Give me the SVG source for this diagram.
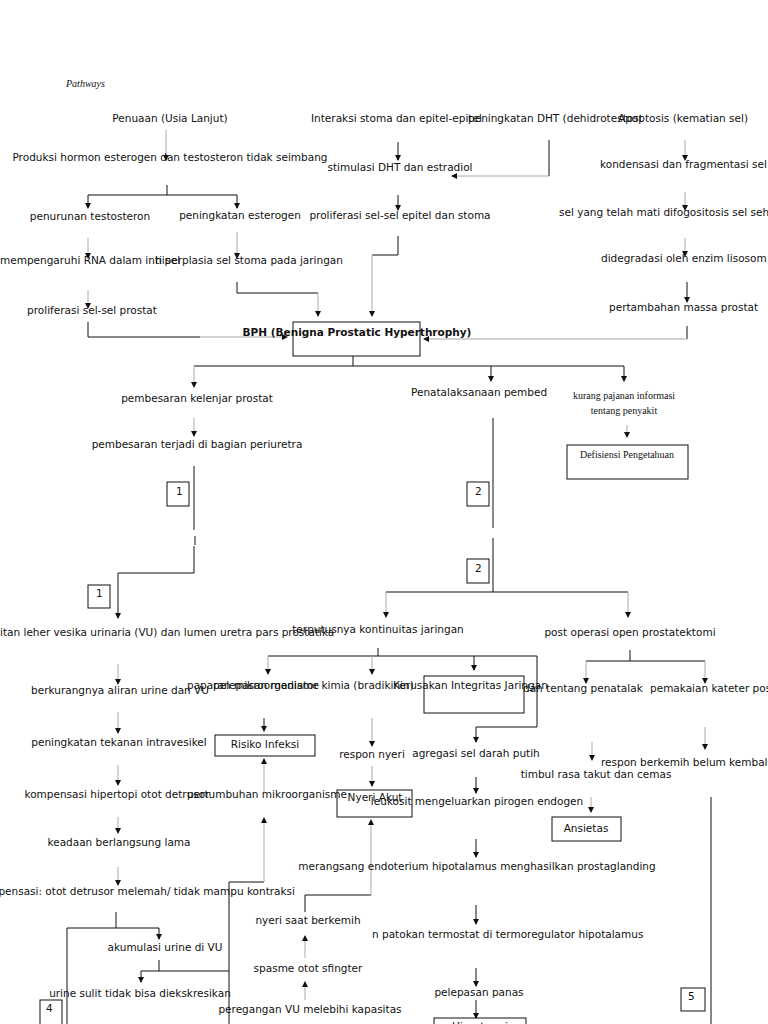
<svg xmlns="http://www.w3.org/2000/svg" width="768" height="1024" viewBox="0 0 768 1024">
<style>
text{font-family:"DejaVu Sans",sans-serif;font-size:10.5px;fill:#111}
.m{text-anchor:middle}
.e{text-anchor:end}
.s{font-family:"Liberation Serif",serif;font-size:10px}
.b{font-weight:bold}
.bx{fill:none;stroke:#111;stroke-width:1}
.k{fill:none;stroke:#111;stroke-width:1}
.g{fill:none;stroke:#aaa;stroke-width:1}
.a{marker-end:url(#ar)}
</style>
<defs><marker id="ar" markerWidth="6" markerHeight="6" refX="5" refY="3" orient="auto" markerUnits="userSpaceOnUse"><path d="M0,0L6,3L0,6z" fill="#111"/></marker></defs>
<rect width="768" height="1024" fill="#fff"/>
<text x="66" y="87" class="s" font-style="italic">Pathways</text>
<g id="connectors">
<path class="g a" d="M166,130V160"/>
<path class="k" d="M167,185V195M88,195H237"/>
<path class="k a" d="M88,195V208"/><path class="k a" d="M237,195V208"/>
<path class="g a" d="M88,238V258"/><path class="g a" d="M237,232V258"/><path class="g a" d="M88,290V308"/>
<path class="k" d="M88,322V337H200"/><path class="g a" d="M200,337H287"/>
<path class="k" d="M237,282V293H318"/><path class="g a" d="M318,293V316"/>
<path class="k a" d="M398,142V160"/><path class="k a" d="M398,195V210"/>
<path class="k" d="M549,140V176"/><path class="g a" d="M549,176H452"/>
<path class="k" d="M398,236V255H372"/><path class="g a" d="M372,255V316"/>
<path class="g a" d="M685,140V160"/><path class="g a" d="M685,192V210"/><path class="g a" d="M685,238V256"/>
<path class="k a" d="M687,282V302"/>
<path class="k" d="M687,326V339"/><path class="g a" d="M687,339H424"/>
<path class="k" d="M353,356V366M194,366H624"/>
<path class="g a" d="M194,366V387"/><path class="k a" d="M491,366V381"/><path class="k a" d="M624,366V381"/>
<path class="g a" d="M627,425V437"/><path class="g a" d="M194,418V436"/>
<path class="k" d="M194,466V530M195,536V545M194,546V573H118"/><path class="k a" d="M118,573V618"/>
<path class="k" d="M493,418V528M493,538V592M386,592H628"/>
<path class="g a" d="M386,592V617"/><path class="g a" d="M628,592V617"/>
<path class="k" d="M378,648V656M268,656H537V727H476"/>
<path class="g a" d="M268,656V674"/><path class="g a" d="M372,656V674"/><path class="k a" d="M474,656V670"/><path class="k a" d="M476,727V742"/>
<path class="k" d="M630,650V661M586,661H705"/><path class="g a" d="M586,661V683"/><path class="g a" d="M705,661V683"/>
<path class="k a" d="M264,718V731"/>
<path class="g a" d="M372,718V746"/><path class="g a" d="M372,766V786"/>
<path class="k a" d="M476,777V793"/>
<path class="g a" d="M592,742V760"/><path class="g a" d="M705,727V749"/><path class="g a" d="M591,797V812"/>
<path class="k" d="M711,797V1024"/>
<path class="g a" d="M118,664V684"/><path class="g a" d="M118,712V733"/><path class="g a" d="M118,765V785"/><path class="g a" d="M118,817V833"/><path class="g a" d="M118,867V885"/>
<path class="g a" d="M264,792V759"/>
<path class="k" d="M229,1024V882H264"/><path class="g a" d="M264,882V818"/>
<path class="k" d="M116,912V928M67,928H159M67,928V1024"/><path class="k a" d="M159,928V939"/>
<path class="k" d="M159,960V971M141,971H229"/><path class="k a" d="M141,971V982"/>
<path class="g a" d="M305,958V936"/><path class="g a" d="M305,1000V982"/>
<path class="k" d="M305,912V895H371"/><path class="g a" d="M371,895V820"/>
<path class="k a" d="M476,839V857"/><path class="k a" d="M476,905V924"/><path class="k a" d="M476,968V986"/><path class="k a" d="M476,1000V1018"/>
</g>
<g id="texts">
<text x="170" y="122" class="m">Penuaan (Usia Lanjut)</text>
<text x="170" y="161" class="m">Produksi hormon esterogen dan testosteron tidak seimbang</text>
<text x="90" y="220" class="m">penurunan testosteron</text>
<text x="240" y="219" class="m">peningkatan esterogen</text>
<text x="0" y="264">mempengaruhi RNA dalam inti sel</text>
<text x="155" y="264">hiperplasia sel stoma pada jaringan</text>
<text x="92" y="314" class="m">proliferasi sel-sel prostat</text>
<text x="311" y="122">Interaksi stoma dan epitel-epitel</text>
<text x="468" y="122">peningkatan DHT (dehidrotestost</text>
<text x="618" y="122">Apoptosis (kematian sel)</text>
<text x="400" y="171" class="m">stimulasi DHT dan estradiol</text>
<text x="400" y="219" class="m">proliferasi sel-sel epitel dan stoma</text>
<text x="600" y="168">kondensasi dan fragmentasi sel</text>
<text x="559" y="216">sel yang telah mati difogositosis sel sehat</text>
<text x="601" y="262">didegradasi oleh enzim lisosom</text>
<text x="609" y="311">pertambahan massa prostat</text>
<text x="357" y="336" class="m b">BPH (Benigna Prostatic Hyperthrophy)</text>
<text x="197" y="402" class="m">pembesaran kelenjar prostat</text>
<text x="411" y="396">Penatalaksanaan pembed</text>
<text x="624" y="399" class="m s">kurang pajanan informasi</text>
<text x="624" y="414" class="m s">tentang penyakit</text>
<text x="197" y="448" class="m">pembesaran terjadi di bagian periuretra</text>
<text x="0" y="636">itan leher vesika urinaria (VU) dan lumen uretra pars prostatika</text>
<text x="378" y="633" class="m">terputusnya kontinuitas jaringan</text>
<text x="630" y="636" class="m">post operasi open prostatektomi</text>
<text x="187" y="689">paparan mikroorganisme</text>
<text x="213" y="689">pelepasan mediator kimia (bradikinin)</text>
<text x="393" y="689">Kerusakan Integritas Jaringan</text>
<text x="523" y="692">dan tentang penatalak</text>
<text x="650" y="692">pemakaian kateter post operasi</text>
<text x="120" y="694" class="m">berkurangnya aliran urine dan VU</text>
<text x="119" y="746" class="m">peningkatan tekanan intravesikel</text>
<text x="372" y="758" class="m">respon nyeri</text>
<text x="476" y="757" class="m">agregasi sel darah putih</text>
<text x="601" y="766">respon berkemih belum kembali normal</text>
<text x="596" y="778" class="m">timbul rasa takut dan cemas</text>
<text x="117" y="798" class="m">kompensasi hipertopi otot detrusor</text>
<text x="187" y="798">pertumbuhan mikroorganisme</text>
<text x="477" y="805" class="m">leukosit mengeluarkan pirogen endogen</text>
<text x="119" y="846" class="m">keadaan berlangsung lama</text>
<text x="477" y="870" class="m">merangsang endoterium hipotalamus menghasilkan prostaglanding</text>
<text x="295" y="895" class="e">dekompensasi: otot detrusor melemah/ tidak mampu kontraksi</text>
<text x="308" y="924" class="m">nyeri saat berkemih</text>
<text x="372" y="938">n patokan termostat di termoregulator hipotalamus</text>
<text x="165" y="951" class="m">akumulasi urine di VU</text>
<text x="308" y="972" class="m">spasme otot sfingter</text>
<text x="479" y="996" class="m">pelepasan panas</text>
<text x="140" y="997" class="m">urine sulit tidak bisa diekskresikan</text>
<text x="310" y="1013" class="m">peregangan VU melebihi kapasitas</text>
</g>
<g id="bph"><rect x="293" y="322" width="127" height="34" class="bx" stroke-width="2"/></g>
<g id="defisiensi"><rect x="567" y="445" width="121" height="34" class="bx"/><text x="627" y="458" class="m s">Defisiensi Pengetahuan</text></g>
<g id="c1a"><rect x="167" y="482" width="22" height="24" class="bx"/><text x="176" y="495">1</text></g>
<g id="c1b"><rect x="88" y="585" width="22" height="23" class="bx"/><text x="96" y="597">1</text></g>
<g id="c2a"><rect x="467" y="482" width="22" height="24" class="bx"/><text x="475" y="495">2</text></g>
<g id="c2b"><rect x="467" y="559" width="22" height="24" class="bx"/><text x="475" y="572">2</text></g>
<g id="kerusakan"><rect x="424" y="676" width="100" height="37" class="bx"/></g>
<g id="risiko"><rect x="215" y="735" width="100" height="21" class="bx"/><text x="265" y="748" class="m">Risiko Infeksi</text></g>
<g id="nyeri"><rect x="337" y="790" width="75" height="27" class="bx"/><text x="375" y="801" class="m">Nyeri Akut</text></g>
<g id="ansietas"><rect x="552" y="817" width="69" height="24" class="bx"/><text x="586" y="832" class="m">Ansietas</text></g>
<g id="c4"><rect x="40" y="1000" width="22" height="30" class="bx"/><text x="46" y="1012">4</text></g>
<g id="c5"><rect x="681" y="988" width="24" height="23" class="bx"/><text x="688" y="1000">5</text></g>
<g id="hipertermi"><rect x="434" y="1018" width="92" height="20" class="bx"/><text x="480" y="1030" class="m">Hipertermi</text></g>
</svg>
